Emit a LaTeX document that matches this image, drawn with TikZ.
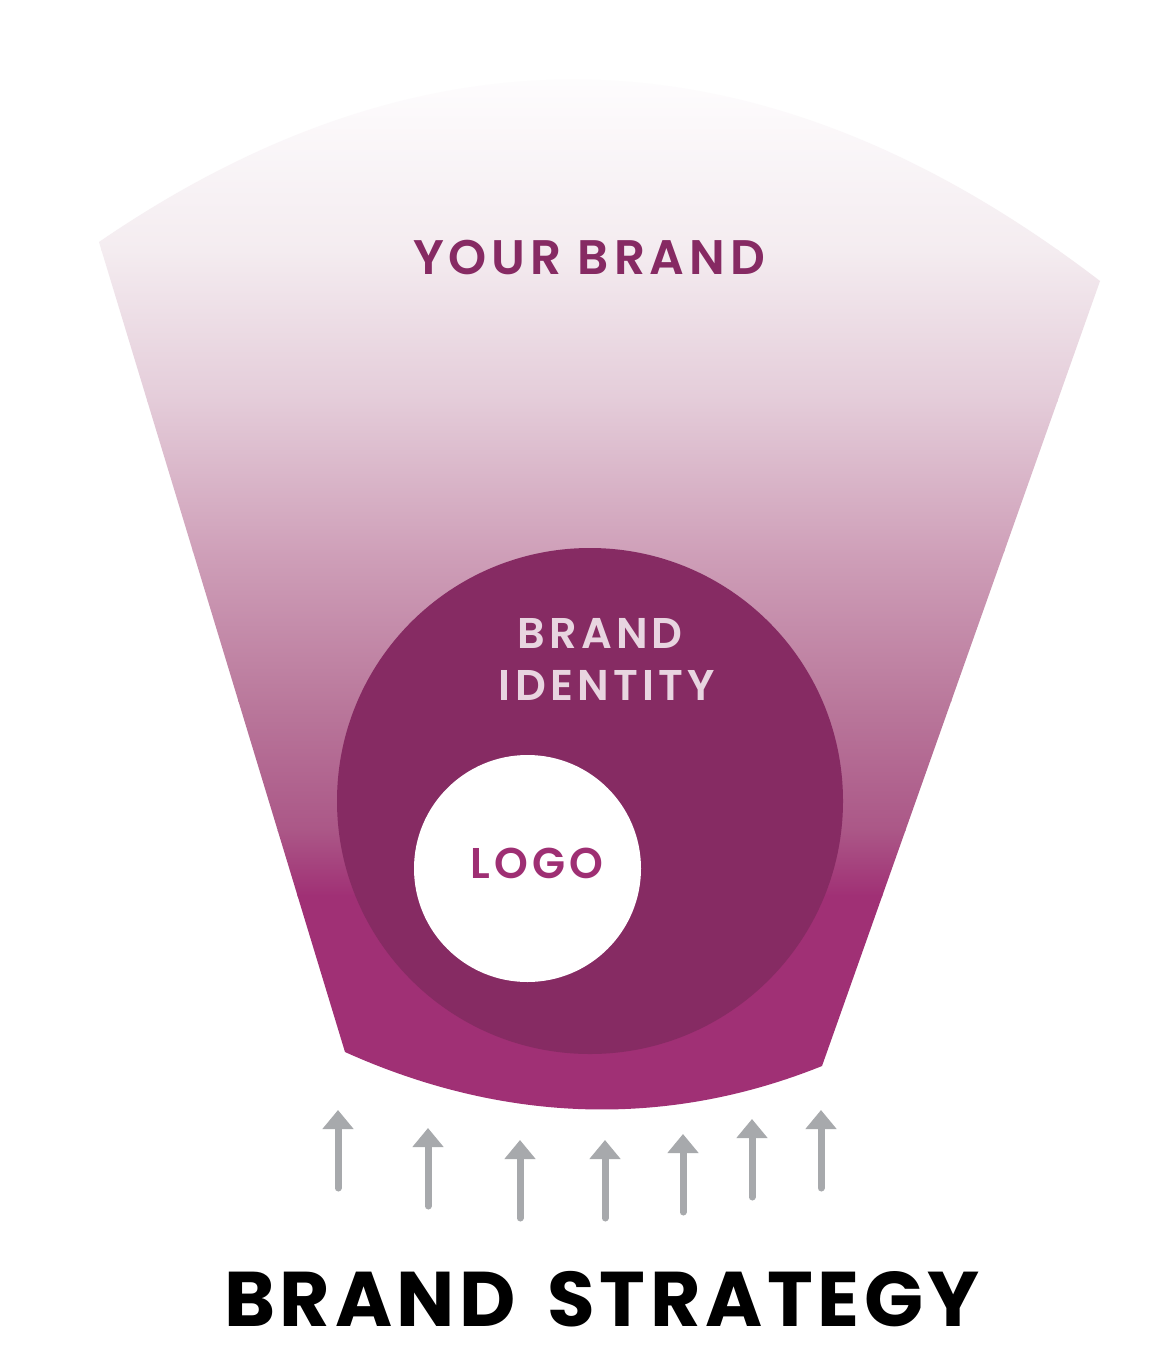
\documentclass[tikz,border=0pt]{standalone}
\usepackage{fontspec}
\usetikzlibrary{arrows.meta}
\newfontfamily\popm{Poppins SemiBold}[LetterSpace=10]
\newfontfamily\popb{Poppins Bold}[LetterSpace=6]
\definecolor{g0}{HTML}{FEFDFE}
\definecolor{g1}{HTML}{F4ECF0}
\definecolor{g2}{HTML}{E4CCD9}
\definecolor{g3}{HTML}{CFA0B9}
\definecolor{g4}{HTML}{BA799C}
\definecolor{g5}{HTML}{AB5787}
\definecolor{g6}{HTML}{A03075}
\definecolor{idcol}{HTML}{862B63}
\definecolor{idtext}{HTML}{E8D5E0}
\definecolor{logotext}{HTML}{9E2F73}
\definecolor{brandtext}{HTML}{862A63}
\definecolor{arrowgray}{HTML}{A7A9AC}
\tikzset{
  upar/.style={draw=arrowgray, line width=7pt, line cap=round,
    -{Triangle[width=30pt,length=19pt]}},
  disc/.style={circle, inner sep=0pt, draw=none},
}
\begin{document}
\begin{tikzpicture}[x=1pt,y=-1pt]
\useasboundingbox[fill=white] (0,0) rectangle (1158,1372);
% funnel
\begin{scope}
\clip (99,242) .. controls (433.3,13) and (767,26) .. (1100,281)
  -- (822,1066) .. controls (668,1128) and (505,1124) .. (345,1052) -- cycle;
\shade[top color=g0, bottom color=g1] (0,70) rectangle (1158,251);
\shade[top color=g1, bottom color=g2] (0,250) rectangle (1158,401);
\shade[top color=g2, bottom color=g3] (0,400) rectangle (1158,551);
\shade[top color=g3, bottom color=g4] (0,550) rectangle (1158,701);
\shade[top color=g4, bottom color=g5] (0,700) rectangle (1158,831);
\shade[top color=g5, bottom color=g6] (0,830) rectangle (1158,896);
\fill[g6] (0,895) rectangle (1158,1130);
\end{scope}
% circles
\node[disc, fill=idcol, minimum size=506pt] (identity) at (590,801) {};
\node[disc, fill=white, minimum size=227pt] (logo) at (527.5,868.5) {};
% texts
\node[anchor=base, inner sep=0pt, text=brandtext, font=\popm\fontsize{48.5}{58}\selectfont] (yourbrand) at (589,274) {YOUR BRAND};
\node[anchor=base, inner sep=0pt, text=idtext, font=\popm\fontsize{43}{52}\selectfont] (idl1) at (600,648) {BRAND};
\node[anchor=base, inner sep=0pt, text=idtext, font=\popm\fontsize{43}{52}\selectfont] (idl2) at (607,700) {IDENTITY};
\node[anchor=base, inner sep=0pt, text=logotext, font=\popm\fontsize{43}{52}\selectfont] (logotxt) at (537,878) {LOGO};
\node[anchor=base, inner sep=0pt, text=black, font=\popb\fontsize{77.5}{90}\selectfont] (strategy) at (602,1326) {BRAND\hspace{10pt} STRATEGY};
% arrows
\foreach \i/\x/\t/\b in {1/338/1110/1188, 2/428/1128/1206, 3/520/1140/1218, 4/605/1140/1218, 5/683/1134/1212, 6/752/1119/1197, 7/821/1110/1188}{
  \coordinate (s\i) at (\x,\b);
  \coordinate (e\i) at (\x,\t);
  \draw[upar] (s\i) -- (e\i);
}
\end{tikzpicture}
\end{document}
